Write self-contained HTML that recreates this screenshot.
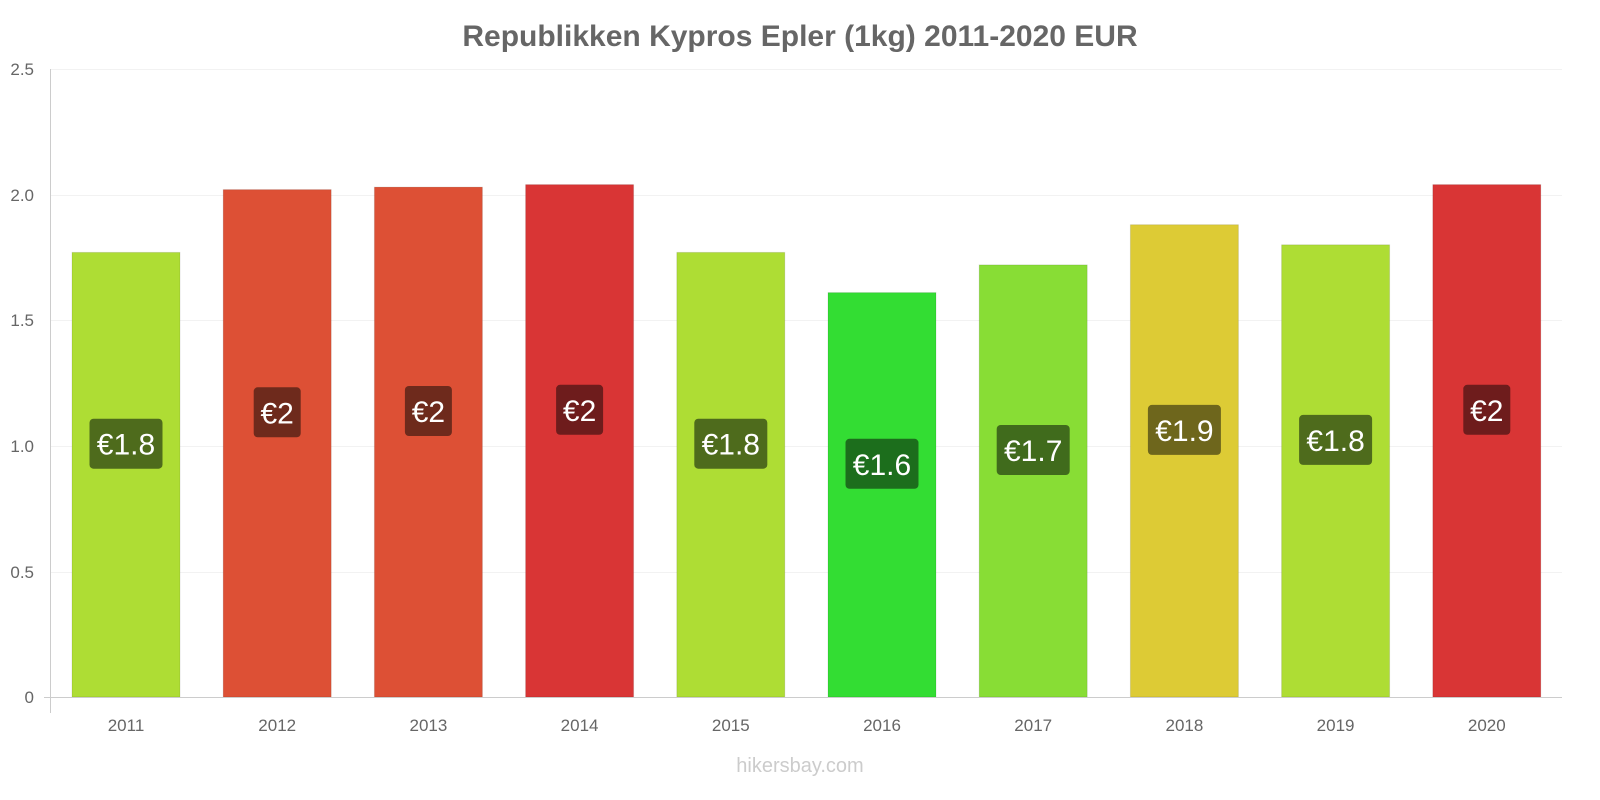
<!DOCTYPE html>
<html><head><meta charset="utf-8"><style>
html,body{margin:0;padding:0;background:#fff;}
svg{display:block;font-family:"Liberation Sans",sans-serif;}
</style></head><body>
<svg width="1600" height="800" xmlns="http://www.w3.org/2000/svg">
<text x="800" y="46" text-anchor="middle" font-size="30" font-weight="bold" fill="#666">Republikken Kypros Epler (1kg) 2011-2020 EUR</text>
<g stroke="#f2f2f2" stroke-width="1">
<line x1="51" x2="1562" y1="69.5" y2="69.5"/>
<line x1="51" x2="1562" y1="195.5" y2="195.5"/>
<line x1="51" x2="1562" y1="320.5" y2="320.5"/>
<line x1="51" x2="1562" y1="446.5" y2="446.5"/>
<line x1="51" x2="1562" y1="572.5" y2="572.5"/>
</g>
<g font-size="17" fill="#666" text-anchor="end">
<text x="34" y="75">2.5</text>
<text x="34" y="201">2.0</text>
<text x="34" y="326">1.5</text>
<text x="34" y="452">1.0</text>
<text x="34" y="578">0.5</text>
<text x="34" y="703">0</text>
</g>
<g stroke="rgba(0,0,0,0.1)">
<rect x="72" y="252.4" width="108" height="444.6" fill="#aedd34"/>
<rect x="223.2" y="189.6" width="108" height="507.4" fill="#dd5035"/>
<rect x="374.4" y="187.1" width="108" height="509.9" fill="#dd5035"/>
<rect x="525.6" y="184.6" width="108" height="512.4" fill="#d93535"/>
<rect x="676.8" y="252.4" width="108" height="444.6" fill="#aedd34"/>
<rect x="828" y="292.6" width="108" height="404.4" fill="#33dd33"/>
<rect x="979.2" y="264.9" width="108" height="432.1" fill="#88dd35"/>
<rect x="1130.4" y="224.7" width="108" height="472.3" fill="#ddcb35"/>
<rect x="1281.6" y="244.8" width="108" height="452.2" fill="#aedd34"/>
<rect x="1432.8" y="184.6" width="108" height="512.4" fill="#d93535"/>
</g>
<g>
<rect x="89.5" y="418.7" width="73" height="50" rx="4" fill="#4e6b1c"/>
<rect x="253.7" y="387.3" width="47" height="50" rx="4" fill="#6e2a1c"/>
<rect x="404.9" y="386" width="47" height="50" rx="4" fill="#6e2a1c"/>
<rect x="556.1" y="384.8" width="47" height="50" rx="4" fill="#6e1c1c"/>
<rect x="694.3" y="418.7" width="73" height="50" rx="4" fill="#4e6b1c"/>
<rect x="845.5" y="438.8" width="73" height="50" rx="4" fill="#1c6e1c"/>
<rect x="996.7" y="425" width="73" height="50" rx="4" fill="#406b1c"/>
<rect x="1147.9" y="404.9" width="73" height="50" rx="4" fill="#6e661c"/>
<rect x="1299.1" y="414.9" width="73" height="50" rx="4" fill="#4e6b1c"/>
<rect x="1463.3" y="384.8" width="47" height="50" rx="4" fill="#6e1c1c"/>
</g>
<g font-size="30" fill="#fff" text-anchor="middle">
<text x="126" y="454.7">€1.8</text>
<text x="277.2" y="423.3">€2</text>
<text x="428.4" y="422">€2</text>
<text x="579.6" y="420.8">€2</text>
<text x="730.8" y="454.7">€1.8</text>
<text x="882" y="474.8">€1.6</text>
<text x="1033.2" y="461">€1.7</text>
<text x="1184.4" y="440.9">€1.9</text>
<text x="1335.6" y="450.9">€1.8</text>
<text x="1486.8" y="420.8">€2</text>
</g>
<g font-size="17" fill="#666" text-anchor="middle">
<text x="126" y="731">2011</text>
<text x="277.2" y="731">2012</text>
<text x="428.4" y="731">2013</text>
<text x="579.6" y="731">2014</text>
<text x="730.8" y="731">2015</text>
<text x="882" y="731">2016</text>
<text x="1033.2" y="731">2017</text>
<text x="1184.4" y="731">2018</text>
<text x="1335.6" y="731">2019</text>
<text x="1486.8" y="731">2020</text>
</g>
<line x1="50.5" x2="50.5" y1="69" y2="713" stroke="#ccc"/>
<line x1="44" x2="1562" y1="697.5" y2="697.5" stroke="#ccc"/>
<text x="800" y="772" text-anchor="middle" font-size="20" fill="#ccc">hikersbay.com</text>
</svg>
</body></html>
